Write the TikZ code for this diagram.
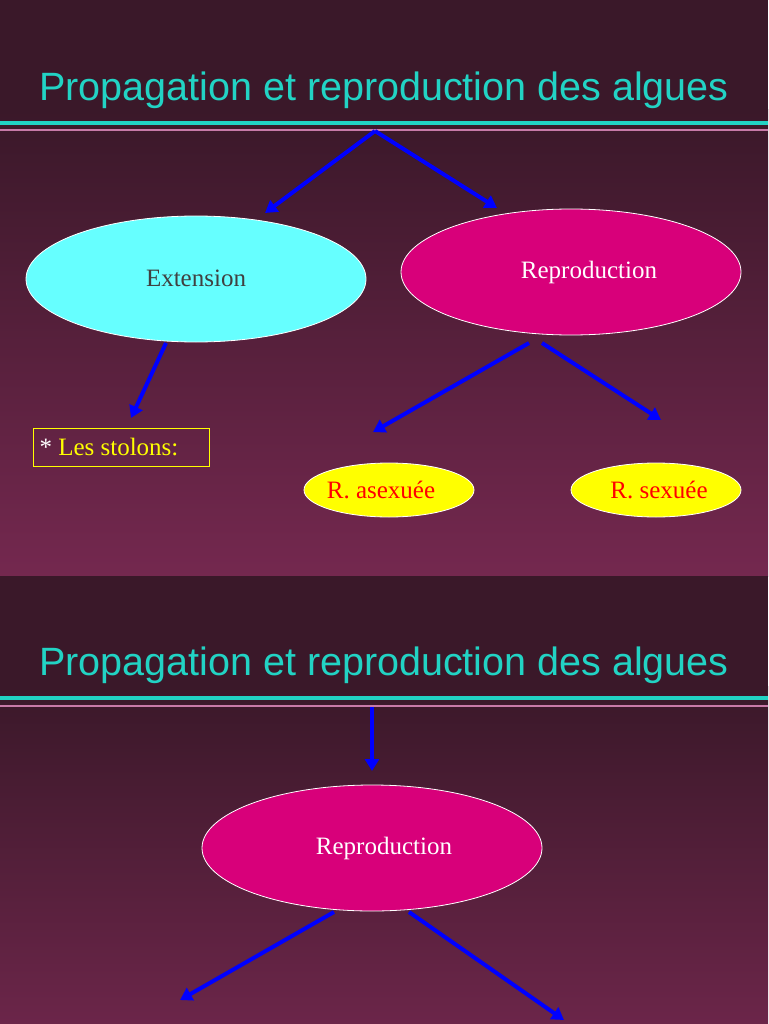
\documentclass[tikz,border=0pt]{standalone}
\usepackage{fontspec}
\setmainfont{Liberation Serif}
\newfontfamily\titlefont{Liberation Sans}
\usetikzlibrary{shapes.geometric,arrows.meta}
\definecolor{bgtop}{HTML}{3A1829}
\definecolor{bgbot}{HTML}{74284F}
\definecolor{teal}{HTML}{22D3C4}
\definecolor{pinkline}{HTML}{C87AA8}
\definecolor{cyanfill}{HTML}{66FFFF}
\definecolor{magfill}{HTML}{D8007A}
\definecolor{yel}{HTML}{FFFF00}
\tikzset{
 title/.style={font=\titlefont\fontsize{39.5}{44}\selectfont,text=teal},
 bigell/.style={ellipse,draw=white,line width=0.8pt,minimum width=340pt,minimum height=126pt},
 lbl/.style={font=\fontsize{25}{29}\selectfont},
 smallell/.style={ellipse,draw=white,line width=0.8pt,fill=yel,minimum width=170pt,minimum height=54pt},
 arr/.style={draw=blue,line width=4pt,-{Triangle[length=12pt,width=14pt]}},
}
\begin{document}
\begin{tikzpicture}[x=1pt,y=-1pt]
\useasboundingbox (0,0) rectangle (768,1024);
% backgrounds
\shade[top color=bgtop,bottom color=bgbot] (0,110) rectangle (768,576);
\fill[bgtop] (0,0) rectangle (768,110);
\shade[top color=bgtop,bottom color=bgbot!85!bgtop] (0,686) rectangle (768,1024);
\fill[bgtop] (0,576) rectangle (768,686);
% slide 1
\node[title] (t1) at (384,90) {Propagation et reproduction des algues};
\fill[teal] (0,121) rectangle (768,125);
\fill[pinkline] (0,129) rectangle (768,131);
\coordinate (top1) at (375,131);
\node[bigell,fill=cyanfill] (ext) at (196,279) {};
\node[lbl,text=black!75] (extt) at (196,278) {Extension};
\node[bigell,fill=magfill] (rep) at (571,272) {};
\node[lbl,text=white] (rept) at (589,272) {Reproduction};
\node[draw=yel,line width=0.8pt,minimum width=176pt,minimum height=38pt] (stol) at (121,447) {};
\node[lbl,text=yel,anchor=west] (stolt) at (36,447) {\textcolor{white}{*} Les stolons:};
\node[smallell] (ase) at (389,490) {};
\node[lbl,text=red] (aset) at (381,490) {R. asexuée};
\node[smallell] (sex) at (656,490) {};
\node[lbl,text=red] (sext) at (659,490) {R. sexuée};
\coordinate (a1) at (265,213);
\coordinate (a2) at (497,208);
\draw[arr] (top1) -- (a1);
\draw[arr] (top1) -- (a2);
\coordinate (e1) at (166,343);
\coordinate (e2) at (131,418);
\draw[arr] (e1) -- (e2);
\coordinate (r1) at (529,343);
\coordinate (r2) at (373,432);
\coordinate (r3) at (542,343);
\coordinate (r4) at (661,420);
\draw[arr] (r1) -- (r2);
\draw[arr] (r3) -- (r4);
% slide 2
\node[title] (t2) at (384,665) {Propagation et reproduction des algues};
\fill[teal] (0,696) rectangle (768,700);
\fill[pinkline] (0,705) rectangle (768,707);
\coordinate (top2) at (372,707);
\coordinate (b2) at (372,771);
\draw[arr] (top2) -- (b2);
\node[bigell,fill=magfill] (rep2) at (372,848) {};
\node[lbl,text=white] (rep2t) at (384,848) {Reproduction};
\coordinate (s1) at (334,912);
\coordinate (s2) at (180,1000);
\coordinate (s3) at (409,912);
\coordinate (s4) at (564,1020);
\draw[arr] (s1) -- (s2);
\draw[arr] (s3) -- (s4);
\end{tikzpicture}
\end{document}
